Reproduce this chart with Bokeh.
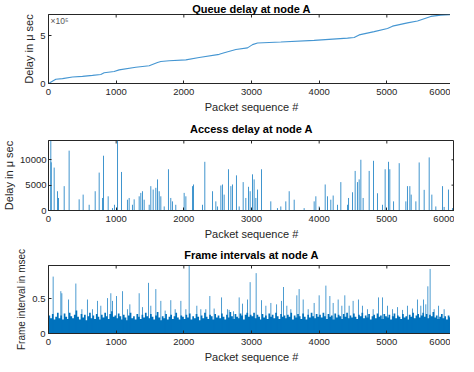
import numpy as np
from bokeh.plotting import figure
from bokeh.layouts import column
from bokeh.models import Range1d, FixedTicker, Label
from bokeh.embed import file_html
from bokeh.resources import INLINE

# ---------------- data ----------------
x_ticks = [0, 1000, 2000, 3000, 4000, 5000, 6000]

# Queue delay (micro-seconds)
queue_seq = [0, 108, 207, 355, 502, 650, 773, 823, 970, 1044, 1290, 1488, 1611, 1660, 1784,
             2030, 2227, 2523, 2597, 2769, 2941, 3015, 3089, 3433, 3926, 4419, 4517, 4591,
             4813, 5010, 5084, 5305, 5453, 5650, 5798, 6000]
queue_delay = [0, 0.44e5, 0.51e5, 0.68e5, 0.75e5, 0.85e5, 0.95e5, 1.12e5, 1.26e5, 1.43e5, 1.70e5,
               1.87e5, 2.21e5, 2.31e5, 2.38e5, 2.48e5, 2.72e5, 3.06e5, 3.23e5, 3.57e5, 3.74e5,
               4.08e5, 4.25e5, 4.35e5, 4.52e5, 4.76e5, 4.82e5, 5.10e5, 5.44e5, 5.78e5, 6.02e5,
               6.36e5, 6.56e5, 7.04e5, 7.17e5, 7.24e5]

# Access delay spikes (packet #, micro-seconds)
access_seq = [34, 40, 84, 133, 148, 232, 305, 453, 512, 601, 690, 749, 798, 813, 882, 946, 975,
              1020, 1079, 1167, 1192, 1241, 1266, 1340, 1364, 1389, 1414, 1488, 1512, 1547, 1586,
              1611, 1636, 1660, 1710, 1773, 1807, 1832, 1881, 2005, 2030, 2128, 2143, 2276, 2310,
              2424, 2473, 2498, 2547, 2571, 2596, 2660, 2695, 2719, 2778, 2818, 2877, 2916, 2956,
              2980, 3015, 3039, 3064, 3089, 3148, 3285, 3384, 3433, 3507, 3557, 3631, 3778, 3926,
              3951, 4000, 4089, 4123, 4172, 4207, 4271, 4320, 4419, 4434, 4493, 4532, 4566, 4591,
              4616, 4650, 4739, 4803, 4862, 4936, 4975, 5025, 5044, 5099, 5183, 5281, 5305, 5340,
              5360, 5429, 5478, 5552, 5626, 5665, 5724, 5823, 5847, 5911, 5970]
access_delay = [13800, 9500, 8460, 3800, 2470, 4800, 11800, 2200, 3130, 1130, 3800, 7470, 2470,
                10800, 2800, 470, 1130, 13800, 7600, 2130, 2470, 1130, 2200, 2800, 3470, 3800,
                2130, 1130, 4800, 4130, 4470, 6130, 3800, 2800, 800, 8130, 2470, 1800, 1130,
                3470, 2800, 4800, 5130, 1130, 9600, 3800, 1800, 800, 4930, 5130, 3130, 8130,
                4800, 5130, 6930, 800, 5600, 2470, 4670, 3800, 7130, 6130, 2470, 4130, 8130,
                1800, 470, 800, 1800, 3800, 2130, 470, 1800, 2800, 800, 5130, 2800, 2130, 2950,
                1130, 5600, 1130, 2470, 3600, 7800, 5600, 6130, 10000, 2470, 7800, 9800, 3400,
                1130, 8130, 9600, 8130, 1800, 9330, 1800, 4800, 4800, 3130, 1800, 9470, 4070,
                10470, 3130, 800, 4800, 700, 4130, 470]

# Frame intervals (msec): dense band, one value per 25 packets
frame_band = [0.26, 0.22, 0.28, 0.20, 0.24, 0.30, 0.22, 0.26, 0.20, 0.29, 0.24, 0.21, 0.30, 0.25, 0.22, 0.27, 0.33, 0.24, 0.20, 0.28,
              0.23, 0.27, 0.19, 0.25, 0.30, 0.22, 0.26, 0.21, 0.28, 0.24, 0.20, 0.27, 0.23, 0.30, 0.25, 0.21, 0.28, 0.32, 0.24, 0.26,
              0.22, 0.29, 0.25, 0.20, 0.27, 0.23, 0.19, 0.26, 0.30, 0.22, 0.25, 0.20, 0.28, 0.24, 0.21, 0.27, 0.23, 0.30, 0.25, 0.22,
              0.28, 0.24, 0.20, 0.26, 0.31, 0.23, 0.19, 0.25, 0.22, 0.28, 0.20, 0.24, 0.27, 0.21, 0.25, 0.30, 0.23, 0.20, 0.26, 0.24,
              0.21, 0.27, 0.23, 0.29, 0.20, 0.25, 0.22, 0.28, 0.24, 0.19, 0.26, 0.22, 0.30, 0.24, 0.21, 0.27, 0.25, 0.20, 0.28, 0.23,
              0.26, 0.22, 0.29, 0.24, 0.20, 0.27, 0.23, 0.31, 0.25, 0.21, 0.28, 0.24, 0.22, 0.29, 0.26, 0.20, 0.27, 0.30, 0.24, 0.27,
              0.25, 0.30, 0.22, 0.27, 0.24, 0.20, 0.28, 0.23, 0.26, 0.21, 0.29, 0.24, 0.27, 0.22, 0.30, 0.25, 0.21, 0.28, 0.24, 0.26,
              0.22, 0.27, 0.24, 0.30, 0.20, 0.26, 0.23, 0.28, 0.25, 0.21, 0.29, 0.24, 0.20, 0.27, 0.23, 0.30, 0.25, 0.22, 0.28, 0.24,
              0.27, 0.23, 0.30, 0.25, 0.21, 0.28, 0.24, 0.26, 0.20, 0.29, 0.23, 0.27, 0.25, 0.21, 0.28, 0.24, 0.30, 0.22, 0.26, 0.23,
              0.29, 0.24, 0.21, 0.27, 0.25, 0.30, 0.22, 0.26, 0.23, 0.28, 0.20, 0.25, 0.27, 0.22, 0.29, 0.24, 0.26, 0.21, 0.28, 0.25,
              0.23, 0.27, 0.20, 0.25, 0.29, 0.22, 0.26, 0.24, 0.21, 0.28, 0.23, 0.25, 0.20, 0.27, 0.24, 0.30, 0.22, 0.26, 0.28, 0.23,
              0.26, 0.30, 0.24, 0.28, 0.22, 0.27, 0.25, 0.31, 0.23, 0.26, 0.21, 0.24, 0.28, 0.22, 0.25, 0.20, 0.26, 0.23, 0.19, 0.27]

# Frame interval spikes (packet #, msec)
frame_spike_seq = [69, 182, 197, 296, 404, 493, 576, 650, 724, 773, 872, 921, 946, 1005, 1094, 1167,
                   1202, 1340, 1389, 1478, 1512, 1586, 1660, 1724, 1807, 1872, 1956, 2030, 2079,
                   2192, 2251, 2325, 2384, 2448, 2557, 2645, 2670, 2734, 2818, 2867, 2941, 2980,
                   3069, 3148, 3212, 3286, 3370, 3443, 3473, 3522, 3581, 3670, 3704, 3764, 3838,
                   3926, 4000, 4099, 4158, 4207, 4281, 4335, 4379, 4443, 4502, 4581, 4640, 4714,
                   4798, 4877, 4936, 5010, 5084, 5158, 5232, 5305, 5379, 5453, 5502, 5542, 5576,
                   5606, 5640, 5699, 5764, 5847, 5921, 5995]
frame_spike = [0.82, 0.61, 0.58, 0.49, 0.72, 0.35, 0.49, 0.35, 0.47, 0.40, 0.51, 0.58, 0.47, 0.54,
               0.61, 0.35, 0.42, 0.58, 0.38, 0.73, 0.40, 0.64, 0.47, 0.33, 0.48, 0.35, 0.47, 0.35,
               0.98, 0.40, 0.35, 0.35, 0.54, 0.36, 0.52, 0.35, 0.34, 0.32, 0.52, 0.43, 0.49, 0.74,
               0.87, 0.48, 0.40, 0.44, 0.42, 0.47, 0.67, 0.40, 0.35, 0.55, 0.64, 0.49, 0.35, 0.44,
               0.55, 0.69, 0.54, 0.44, 0.49, 0.40, 0.55, 0.40, 0.47, 0.49, 0.40, 0.35, 0.35, 0.52,
               0.52, 0.40, 0.35, 0.38, 0.34, 0.40, 0.36, 0.49, 0.40, 0.49, 0.42, 0.68, 0.93, 0.35,
               0.40, 0.35, 0.24, 0.35]

# ---------------- styling ----------------
FONT = "Liberation Sans"
INK = "#262626"
BLUE = "#0072BD"
FRAME_W = 406
TICK_LEN = 3
X_MAX = 6000


def make_fig(frame_h, title_standoff, ymax, yticks, ylabels, title, ylabel,
             ylabel_size="11px", ylab_standoff=3):
    p = figure(frame_width=FRAME_W, frame_height=frame_h, output_backend="svg",
               toolbar_location=None, x_range=Range1d(0, X_MAX), y_range=Range1d(0, ymax),
               min_border_left=44, min_border_right=0, min_border_top=0, min_border_bottom=0)
    p.background_fill_color = "white"
    p.border_fill_color = "white"
    p.grid.visible = False
    p.outline_line_color = INK
    p.outline_line_width = 1

    p.title.text = title
    p.title.align = "center"
    p.title.text_font = FONT
    p.title.text_font_size = "11px"
    p.title.text_font_style = "bold"
    p.title.text_color = "black"
    p.title.standoff = title_standoff

    for ax in p.xaxis:
        ax.ticker = FixedTicker(ticks=x_ticks)
        ax.axis_label = "Packet sequence #"
        ax.major_label_standoff = 5
        ax.axis_label_standoff = 3
        ax.axis_label_text_font_size = "11px"
    for ax in p.yaxis:
        ax.ticker = FixedTicker(ticks=yticks)
        ax.major_label_overrides = dict(zip(yticks, ylabels))
        ax.axis_label = ylabel
        ax.major_label_standoff = ylab_standoff
        ax.axis_label_standoff = 2
        ax.axis_label_text_font_size = ylabel_size
    for ax in p.xaxis + p.yaxis:
        ax.major_tick_in = TICK_LEN
        ax.major_tick_out = 0
        ax.minor_tick_line_color = None
        ax.axis_line_color = INK
        ax.major_tick_line_color = INK
        ax.major_label_text_font = FONT
        ax.major_label_text_font_size = "9.5px"
        ax.major_label_text_color = INK
        ax.axis_label_text_font = FONT
        ax.axis_label_text_font_style = "normal"
        ax.axis_label_text_color = INK

    # mirrored tick marks on the top and right edges of the box
    n = len(x_ticks)
    p.segment(x0=x_ticks, y0=[ymax] * n, x1=x_ticks,
              y1=[ymax * (1 - TICK_LEN / frame_h)] * n, line_color=INK, line_width=1)
    m = len(yticks)
    p.segment(x0=[X_MAX] * m, y0=yticks, x1=[X_MAX * (1 - TICK_LEN / FRAME_W)] * m,
              y1=yticks, line_color=INK, line_width=1)
    return p


p1 = make_fig(69, 0, 7.24e5, [0, 5e5], ["0", "5"], "Queue delay at node A", "Delay in μ sec")
p1.line(queue_seq, queue_delay, line_color="#4596d2", line_width=1.1)
p1.add_layout(Label(x=0, y=7.24e5, text="×10⁵", text_align="left", text_baseline="top",
                    x_offset=2, y_offset=-1, text_font=FONT, text_font_size="8.5px",
                    text_color="#555555"))

p2 = make_fig(70, 11, 13800, [0, 5000, 10000], ["0", "5000", "10000"],
              "Access delay at node A", "Delay in μ sec", ylab_standoff=2)
p2.segment(x0=access_seq, y0=0, x1=access_seq, y1=access_delay,
           line_color=BLUE, line_width=1, line_alpha=0.75)

p3 = make_fig(68, 9, 0.98, [0, 0.5], ["0", "0.5"],
              "Frame intervals at node A", "Frame interval in msec", "10px")
band_x = list(np.arange(0, X_MAX, 25)) + [X_MAX]
band_y = frame_band + [frame_band[-1]]
p3.varea_step(x=band_x, y1=0, y2=band_y, step_mode="after", fill_color=BLUE)
p3.segment(x0=frame_spike_seq, y0=0, x1=frame_spike_seq, y1=frame_spike,
           line_color=BLUE, line_width=1, line_alpha=0.7)

layout = column(p1, p2, p3, spacing=0)

open("out.html", "w").write(file_html(layout, INLINE))
